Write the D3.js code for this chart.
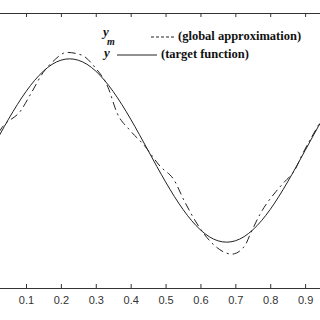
<!DOCTYPE html>
<html><head><meta charset="utf-8">
<script src="https://cdn.jsdelivr.net/npm/d3@7"></script>
<style>html,body{margin:0;padding:0;background:#fff;}svg{display:block;}</style>
</head><body>
<script>
// target function samples
const xTarget = [0,0.025,0.05,0.075,0.1,0.125,0.15,0.175,0.2,0.225,0.25,0.275,0.3,0.325,0.35,0.375,0.4,0.425,0.45,0.475,0.5,0.525,0.55,0.575,0.6,0.625,0.65,0.675,0.7,0.725,0.75,0.775,0.8,0.825,0.85,0.875,0.9,0.925,0.95,0.975,1.0];
const yTarget = [0,0.174,0.342,0.5,0.643,0.766,0.866,0.94,0.985,1.0,0.985,0.94,0.866,0.766,0.643,0.5,0.342,0.174,0,-0.174,-0.342,-0.5,-0.643,-0.766,-0.866,-0.94,-0.985,-1.0,-0.985,-0.94,-0.866,-0.766,-0.643,-0.5,-0.342,-0.174,0,0.174,0.342,0.5,0.643];
// global approximation samples
const xApprox = [0,0.026,0.086,0.117,0.149,0.177,0.217,0.26,0.297,0.335,0.361,0.398,0.438,0.484,0.524,0.555,0.599,0.633,0.69,0.727,0.742,0.77,0.816,0.839,0.871,0.891,0.937,0.97,1.0];
const yApprox = [0.02,0.22,0.44,0.64,0.85,0.97,1.07,1.04,0.91,0.69,0.41,0.22,0.06,-0.17,-0.32,-0.56,-0.85,-1.01,-1.13,-1.04,-0.92,-0.70,-0.45,-0.35,-0.21,-0.05,0.27,0.5,0.66];
const xTicks = [0.1,0.2,0.3,0.4,0.5,0.6,0.7,0.8,0.9];
const legendLabels = ["(global approximation)", "(target function)"];

const W = 320, H = 320;
const svg = d3.select("body").append("svg").attr("width", W).attr("height", H);
const x = d3.scaleLinear().domain([0,1]).range([-8.9, 340]);
const y = d3.scaleLinear().domain([-1.5,1.5]).range([288, 13]);

// axes
svg.append("g").attr("transform","translate(0,288)")
  .call(d3.axisBottom(x).tickValues(xTicks).tickSize(-4).tickSizeOuter(0).tickPadding(8).tickFormat(d3.format(".1f")))
  .call(g=>{g.select(".domain").attr("stroke","#333");
    g.selectAll(".tick line").attr("stroke","#333");
    g.selectAll(".tick text").attr("fill","#333").attr("font-family","Liberation Sans, Arial, sans-serif").attr("font-size",11);});
svg.append("g").attr("transform","translate(0,13)")
  .call(d3.axisTop(x).tickValues(xTicks).tickSize(-4).tickSizeOuter(0).tickFormat(""))
  .call(g=>{g.select(".domain").attr("stroke","#333");
    g.selectAll(".tick line").attr("stroke","#333");});

const line = d3.line().x(d=>x(d[0])).y(d=>y(d[1]));
svg.append("path").datum(d3.zip(xTarget,yTarget))
  .attr("d", line.curve(d3.curveCardinal)).attr("fill","none").attr("stroke","#222").attr("stroke-width",1);
svg.append("path").datum(d3.zip(xApprox,yApprox))
  .attr("d", d3.line().x(d=>x(d[0])).y(d=>y(d[1])).curve(d3.curveMonotoneX)).attr("fill","none").attr("stroke","#222").attr("stroke-width",1)
  .attr("stroke-dasharray","8,4,2,4");

// legend
const serif = "Liberation Serif, Times New Roman, serif";
const lg = svg.append("g").attr("font-family", serif).attr("font-weight","bold").attr("fill","#111");
lg.append("text").attr("x",103).attr("y",36).attr("font-style","italic").attr("font-size",13).text("y");
lg.append("text").attr("x",107).attr("y",45).attr("font-style","italic").attr("font-size",10).text("m");
lg.append("line").attr("x1",151).attr("x2",175).attr("y1",37).attr("y2",37).attr("stroke","#222").attr("stroke-dasharray","3,2");
lg.append("text").attr("x",178).attr("y",40).attr("font-size",12.5).text(legendLabels[0]);
lg.append("text").attr("x",104).attr("y",57).attr("font-style","italic").attr("font-size",13).text("y");
lg.append("line").attr("x1",117).attr("x2",157).attr("y1",55).attr("y2",55).attr("stroke","#222");
lg.append("text").attr("x",161).attr("y",58).attr("font-size",12.5).text(legendLabels[1]);
</script>
</body></html>
